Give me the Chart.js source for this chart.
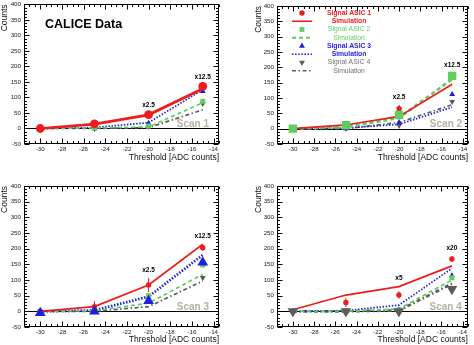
<!DOCTYPE html>
<html lang="en">
<head>
<meta charset="utf-8">
<title>CALICE Data - threshold scans</title>
<script src="https://cdn.jsdelivr.net/npm/chart.js"></script>
<style>
  body { margin: 0; background: #fff; }
  canvas { position: absolute; }
</style>
</head>
<body>
<canvas id="scan1" width="237" height="172" style="left:0;top:0"></canvas>
<canvas id="scan2" width="237" height="172" style="left:237px;top:0"></canvas>
<canvas id="scan3" width="237" height="173" style="left:0;top:172px"></canvas>
<canvas id="scan4" width="237" height="173" style="left:237px;top:172px"></canvas>
<script>
// thresholds [ADC counts] and tick labels
const thresholds = [-30, -25, -20, -15];
const xTicks = [-30, -28, -26, -24, -22, -20, -18, -16, -14];
const asicNames = ['Signal ASIC 1', 'Signal ASIC 2', 'Signal ASIC 3', 'Signal ASIC 4'];

// counts per ASIC (rows = ASIC 1..4, columns = thresholds)
const scan1Signal = [[0, 15, 45, 136], [0, 3, 8, 88], [-2, 0, 17, 120], [0, 0, 6, 80]];
const scan1Sim    = [[0, 14, 44, 128], [0, 2, 5, 83], [0, 3, 19, 125], [0, 0, 3, 60]];
const scan1Err    = [[2, 3, 4, 5], [1, 1, 2, 4], [1, 1, 2, 4], [1, 1, 2, 4]];

const scan2Signal = [[0, 17, 65, 170], [0, 11, 45, 172], [0, 0, 20, 112], [0, 0, 10, 88]];
const scan2Sim    = [[0, 12, 40, 145], [0, 5, 35, 162], [0, 2, 14, 70], [0, 0, 20, 78]];
const scan2Err    = [[2, 4, 13, 8], [1, 2, 4, 8], [1, 1, 3, 6], [1, 1, 3, 6]];

const scan3Signal = [[0, 15, 84, 203], [0, 0, 50, 148], [-5, 0, 33, 156], [0, 0, 36, 107]];
const scan3Sim    = [[0, 15, 84, 214], [0, 2, 26, 118], [0, 3, 47, 180], [0, 0, 15, 97]];
const scan3Err    = [[3, 18, 22, 10], [1, 2, 6, 8], [1, 2, 5, 8], [1, 2, 5, 7]];

const scan4Signal = [[0, 28, 52, 167], [0, 0, 5, 107], [0, 0, 5, 114], [0, 0, 0, 71]];
const scan4Sim    = [[5, 52, 79, 145], [0, 0, 8, 100], [0, 2, 20, 137], [0, 0, 3, 88]];
const scan4Err    = [[2, 14, 12, 9], [1, 1, 2, 7], [1, 1, 2, 7], [1, 1, 2, 6]];

// scale factors written above the -20 and -15 points
const scan1Factors = ['x2.5', 'x12.5'];
const scan2Factors = ['x2.5', 'x12.5'];
const scan3Factors = ['x2.5', 'x12.5'];
const scan4Factors = ['x5', 'x20'];

// styles
const colors = ['#ee1c1c', '#5ecf5e', '#1f1fe0', '#5c5c5c'];
const textColors = ['#ee1c1c', '#5ecf5e', '#1f1fe0', '#707070'];
const pointStyles = ['circle', 'rect', 'triangle', 'triangle'];
const rotations = [0, 0, 0, 180];
const bigRadius = [4.4, 5.9, 6.2, 6.2];
const smallRadius = [2.7, 3.5, 3.4, 3.4];
const dashes = [[], [4, 3], [1.5, 1.6], [4, 2.5, 1.5, 2.5]];
const FONT = "'Liberation Sans', Arial, sans-serif";

function drawMark(ctx, i, x, y, r) {
    ctx.fillStyle = colors[i];
    ctx.beginPath();
    if (i === 0) {
        ctx.arc(x, y, r, 0, Math.PI * 2);
    } else if (i === 1) {
        ctx.rect(x - r * 0.7, y - r * 0.7, r * 1.4, r * 1.4);
    } else {
        let s = i === 2 ? -1 : 1;
        ctx.moveTo(x, y + s * r);
        ctx.lineTo(x - r * 0.87, y - s * r * 0.5);
        ctx.lineTo(x + r * 0.87, y - s * r * 0.5);
        ctx.closePath();
    }
    ctx.fill();
}

function decor(scanNo, factors, showLegend, showTitle) {
    return {
        id: 'decor' + scanNo,
        beforeDatasetsDraw(chart) {
            const ctx = chart.ctx, ys = chart.scales.y;
            const a = chart.chartArea;
            ctx.save();
            // zero line
            ctx.strokeStyle = '#000';
            ctx.lineWidth = 1;
            let y0 = Math.round(ys.getPixelForValue(0)) + 0.5;
            ctx.beginPath(); ctx.moveTo(a.left, y0); ctx.lineTo(a.right, y0); ctx.stroke();
            // error bars
            chart.data.datasets.forEach((ds, idx) => {
                if (!ds.errors) return;
                ctx.strokeStyle = ds.pointBackgroundColor;
                chart.getDatasetMeta(idx).data.forEach((pt, k) => {
                    let v = ds.data[k].y;
                    ctx.beginPath();
                    ctx.moveTo(pt.x, ys.getPixelForValue(v - ds.errors[k]));
                    ctx.lineTo(pt.x, ys.getPixelForValue(v + ds.errors[k]));
                    ctx.stroke();
                });
            });
            ctx.restore();
        },
        afterDraw(chart) {
            const ctx = chart.ctx, xs = chart.scales.x, ys = chart.scales.y;
            const a = chart.chartArea;
            ctx.save();
            ctx.strokeStyle = '#000';
            ctx.lineWidth = 1;
            const L = Math.round(a.left) + 0.5, R = Math.round(a.right) - 0.5;
            const T = Math.round(a.top) + 0.5, B = Math.round(a.bottom) - 0.5;
            ctx.strokeRect(L, T, R - L, B - T);
            // inward ticks on all four sides
            ctx.beginPath();
            for (let v = ys.min; v <= ys.max + 0.01; v += 10) {
                let y = Math.round(ys.getPixelForValue(v)) + 0.5;
                let len = Math.abs(v % 50) < 0.01 ? 5 : 2.5;
                ctx.moveTo(L, y); ctx.lineTo(L + len, y);
                ctx.moveTo(R, y); ctx.lineTo(R - len, y);
            }
            for (let v = xs.min; v <= xs.max + 0.01; v += 0.5) {
                let x = Math.round(xs.getPixelForValue(v)) + 0.5;
                let len = Math.abs(v % 2) < 0.01 ? 5 : 2.5;
                ctx.moveTo(x, B); ctx.lineTo(x, B - len);
                ctx.moveTo(x, T); ctx.lineTo(x, T + len);
            }
            ctx.stroke();

            // scale factors above the highest mark at -20 and -15
            ctx.fillStyle = '#000';
            ctx.font = 'bold 6.5px ' + FONT;
            ctx.textAlign = 'center';
            ctx.textBaseline = 'middle';
            [2, 3].forEach((k, j) => {
                let top = Infinity;
                chart.data.datasets.forEach(ds => {
                    let v = ds.data[k].y + (ds.errors ? ds.errors[k] : 0);
                    top = Math.min(top, ys.getPixelForValue(v));
                });
                ctx.fillText(factors[j], xs.getPixelForValue(thresholds[k]), top - 8);
            });

            // scan name
            ctx.fillStyle = '#b6b0a6';
            ctx.font = 'bold 10px ' + FONT;
            ctx.textAlign = 'right';
            ctx.fillText('Scan ' + scanNo, a.right - (scanNo % 2 ? 10 : 6), a.bottom - 20);

            if (showTitle) {
                ctx.fillStyle = '#000';
                ctx.font = 'bold 12.5px ' + FONT;
                ctx.textAlign = 'left';
                ctx.fillText('CALICE Data', 45, 25);
            }

            if (showLegend) {
                const sx = 65, tx = 112, y0 = 13, dy = 8.25;
                for (let i = 0; i < 4; i++) {
                    let ya = y0 + dy * 2 * i, yb = ya + dy;
                    drawMark(ctx, i, sx, ya, i === 0 ? 2.7 : 3.4);
                    ctx.strokeStyle = colors[i];
                    ctx.lineWidth = i === 1 ? 2.2 : 1.6;
                    ctx.setLineDash(dashes[i]);
                    ctx.beginPath(); ctx.moveTo(sx - 10, yb); ctx.lineTo(sx + 10, yb); ctx.stroke();
                    ctx.setLineDash([]);
                    ctx.fillStyle = textColors[i];
                    ctx.font = (i % 2 === 0 ? 'bold ' : '') + '6.8px ' + FONT;
                    ctx.textAlign = 'center';
                    ctx.fillText(asicNames[i], tx, ya);
                    ctx.fillText('Simulation', tx, yb);
                }
            }
            ctx.restore();
        }
    };
}

function makeChart(id, scanNo, signal, sim, err, factors, lay) {
    const hl = scanNo - 1;
    const datasets = [];
    for (let i = 0; i < 4; i++) {
        datasets.push({
            label: 'Simulation ' + (i + 1),
            data: thresholds.map((x, k) => ({ x: x, y: sim[i][k] })),
            borderColor: colors[i],
            borderWidth: i === hl ? 2.7 : 1.7,
            borderDash: dashes[i],
            pointRadius: 0,
            fill: false,
            tension: 0,
            order: 10 + i
        });
        datasets.push({
            label: asicNames[i],
            data: thresholds.map((x, k) => ({ x: x, y: signal[i][k] })),
            errors: err[i],
            showLine: false,
            pointStyle: pointStyles[i],
            pointRotation: rotations[i],
            pointRadius: i === hl ? bigRadius[i] : smallRadius[i],
            pointBackgroundColor: colors[i],
            pointBorderColor: colors[i],
            pointBorderWidth: 0,
            order: i === hl ? 0 : 1 + i
        });
    }

    const tickFont = { family: FONT, size: 6.2 };
    const titleFont = { family: FONT, size: 8.5 };

    new Chart(document.getElementById(id), {
        type: 'line',
        data: { datasets: datasets },
        options: {
            responsive: false,
            animation: false,
            events: [],
            layout: { padding: { left: lay.padLeft, right: lay.padRight, top: lay.padTop, bottom: 0 } },
            plugins: { legend: { display: false }, tooltip: { enabled: false } },
            scales: {
                x: {
                    type: 'linear', min: -31.5, max: -13.5,
                    afterBuildTicks: s => { s.ticks = xTicks.map(v => ({ value: v })); },
                    afterFit: s => { s.height = lay.xAxisH; s.paddingLeft = 0; s.paddingRight = 0; },
                    grid: { display: false, drawTicks: false },
                    border: { display: false },
                    ticks: { font: tickFont, color: '#222', padding: 2, maxRotation: 0, autoSkip: false },
                    title: { display: true, text: 'Threshold [ADC counts]', align: 'end', font: titleFont,
                             color: '#111', padding: { top: 0, bottom: lay.titlePad } }
                },
                y: {
                    min: -50, max: 400,
                    afterFit: s => { s.width = lay.yAxisW; s.paddingTop = 0; s.paddingBottom = 0; },
                    grid: { display: false, drawTicks: false },
                    border: { display: false },
                    ticks: { stepSize: 50, font: tickFont, color: '#222', padding: 3 },
                    title: { display: true, text: 'Counts', align: 'end', font: titleFont,
                             color: '#111', padding: { top: 0, bottom: 0 } }
                }
            }
        },
        plugins: [decor(scanNo, factors, scanNo === 2, scanNo === 1)]
    });
}

const leftTop  = { padLeft: 0,  yAxisW: 24, padRight: 18, padTop: 1,  xAxisH: 28, titlePad: 9 };
const rightTop = { padLeft: 17, yAxisW: 23, padRight: 4,  padTop: 1,  xAxisH: 28, titlePad: 9 };
const leftBot  = { padLeft: 0,  yAxisW: 24, padRight: 18, padTop: 14, xAxisH: 18, titlePad: 0 };
const rightBot = { padLeft: 17, yAxisW: 23, padRight: 4,  padTop: 14, xAxisH: 18, titlePad: 0 };

makeChart('scan1', 1, scan1Signal, scan1Sim, scan1Err, scan1Factors, leftTop);
makeChart('scan2', 2, scan2Signal, scan2Sim, scan2Err, scan2Factors, rightTop);
makeChart('scan3', 3, scan3Signal, scan3Sim, scan3Err, scan3Factors, leftBot);
makeChart('scan4', 4, scan4Signal, scan4Sim, scan4Err, scan4Factors, rightBot);
</script>
</body>
</html>
